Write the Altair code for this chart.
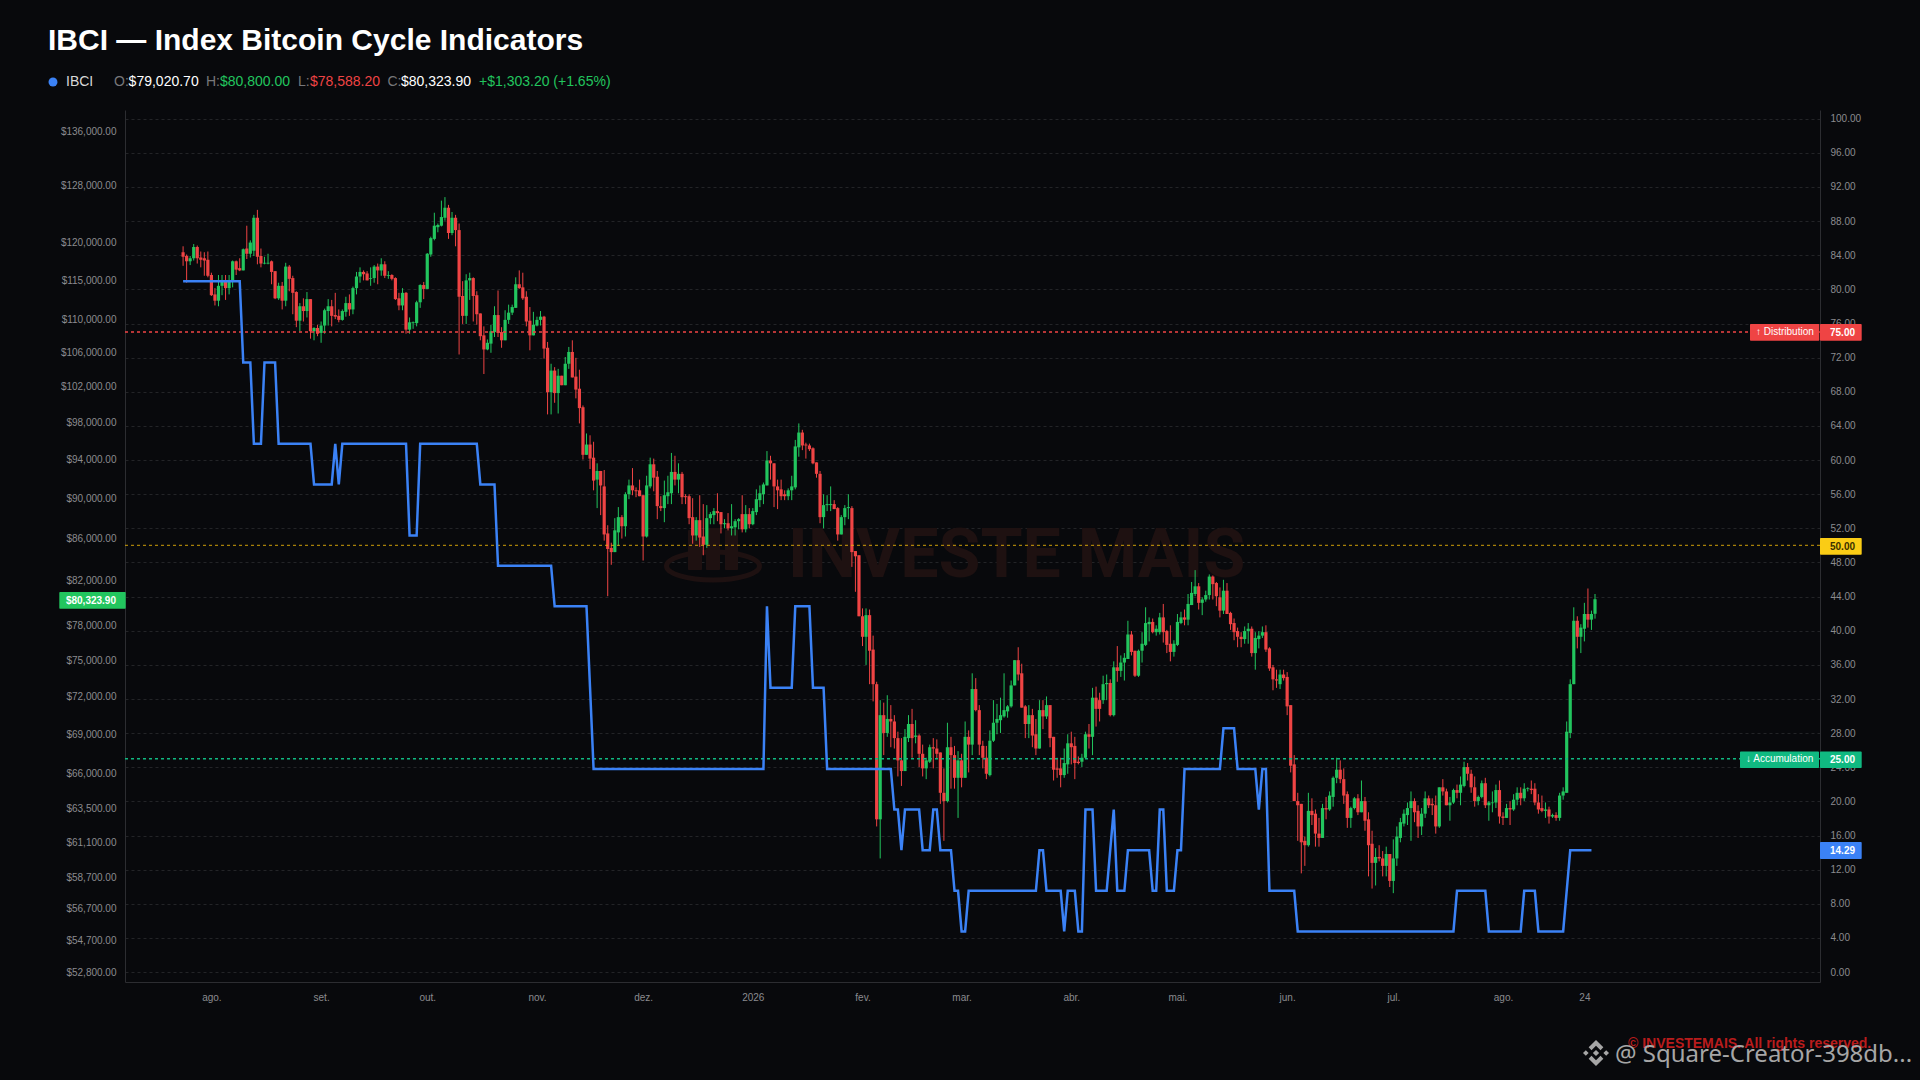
import altair as alt
import pandas as pd

# ---------- candle values, in thousands of dollars: (open, high, low, close) ----------
candles_a = [
(118.7,119.5,116.9,118.1),(118.2,118.4,114.7,117.5),(117.5,118.2,117.0,117.9),(117.9,119.8,117.6,119.4),(119.4,119.6,117.2,117.9),
(118.0,118.8,116.7,117.7),(117.9,118.7,115.6,117.6),(117.7,118.8,115.4,115.6),(115.7,116.0,113.0,113.1),(113.2,114.0,111.8,112.4),
(112.4,115.7,111.7,114.3),(114.3,115.7,113.1,114.8),(114.8,115.7,112.5,114.0),(114.0,115.7,113.2,114.9),(114.9,117.6,114.1,117.5),
(117.5,117.6,115.7,116.4),(116.6,117.9,116.2,116.3),(116.3,119.2,116.3,119.1),(119.2,122.3,117.8,118.5),(118.5,120.3,118.0,120.0),
(118.9,123.8,118.2,123.4),(123.4,124.5,117.1,118.1),(118.2,119.2,116.7,117.2),(117.2,118.1,117.1,117.3),(117.2,118.5,117.1,117.3),
(117.5,117.6,114.5,116.1),(116.2,116.2,112.6,112.7),(112.7,114.7,112.5,114.3),(114.3,114.8,111.3,112.4),(112.4,117.3,111.7,116.8),
(116.8,117.0,113.6,115.2),(115.3,115.6,110.7,113.4),(113.5,113.6,109.1,109.9),(109.9,112.1,108.6,111.7),(111.7,112.7,109.8,111.1),
(111.1,113.5,110.3,112.6),(112.6,112.6,107.7,108.6),(108.6,109.1,107.5,109.0),(109.0,109.4,108.0,108.3),(108.4,109.8,107.2,109.3),
(109.3,111.4,108.3,111.2),(111.1,112.6,109.3,111.7),(111.7,112.5,109.2,110.5),(110.6,113.4,110.1,110.4),(110.5,111.3,109.7,110.0),
(110.0,111.3,109.9,111.1),(111.0,112.9,110.4,112.1),(112.1,113.2,110.5,111.3),(111.3,114.2,110.7,114.0),(114.0,116.1,113.2,115.5),
]
candles_b = [
(115.5,116.7,114.7,116.1),(116.1,116.3,115.0,115.8),(115.9,116.2,115.0,115.0),(115.2,116.7,114.3,115.3),(115.3,117.0,114.7,116.8),
(116.8,117.2,114.5,116.3),(116.3,117.9,115.6,117.1),(117.1,117.5,115.3,115.6),(115.6,116.2,115.2,115.7),(115.7,115.8,115.0,115.2),
(115.3,115.4,112.5,112.6),(112.7,113.4,111.2,111.8),(111.8,114.0,111.2,113.4),(113.4,113.5,108.3,108.8),(108.8,110.3,108.3,109.7),
(109.6,109.8,108.9,109.7),(109.6,112.4,109.2,112.2),(112.2,114.5,111.5,114.4),(114.4,114.8,112.6,113.9),(113.9,118.6,113.9,118.5),
(118.4,120.8,118.1,120.6),(120.5,124.1,120.3,122.3),(122.1,122.6,121.4,122.4),(122.3,125.8,122.2,123.5),(123.4,126.3,123.0,124.8),
(124.8,125.2,120.5,121.3),(121.3,124.2,121.0,123.4),(123.4,123.8,119.5,121.7),(121.7,122.6,105.8,112.9),(113.0,114.9,109.5,110.5),
(110.5,115.8,109.5,115.0),(115.0,116.0,112.5,115.3),(115.3,115.4,109.8,113.0),(113.1,113.6,109.4,110.7),(110.8,110.8,107.5,108.0),
(108.1,109.2,103.5,106.4),(106.4,107.6,106.3,107.2),(107.1,109.4,106.0,108.6),(108.5,111.7,107.9,110.6),(110.6,113.7,107.9,108.4),
(108.5,109.1,106.6,107.5),(107.5,111.2,107.5,110.0),(110.0,111.9,109.5,110.9),(110.9,111.9,110.6,111.6),(111.5,115.4,111.5,114.5),
(114.5,116.3,113.9,114.0),(114.1,116.0,112.5,112.7),(112.9,113.6,109.2,109.8),(109.9,111.6,106.3,108.1),(108.1,111.0,108.1,109.4),
]
candles_c = [
(109.3,110.4,109.2,110.0),(110.0,111.1,109.3,110.4),(110.4,110.5,105.3,106.5),(106.6,107.3,98.9,101.4),(101.4,104.7,98.9,103.9),
(103.9,104.3,100.2,101.3),(101.3,104.1,99.0,103.3),(103.3,103.3,102.2,102.2),(102.2,105.5,102.2,104.7),(104.7,106.7,104.1,106.1),
(106.1,107.5,103.1,103.1),(103.2,105.4,100.7,101.7),(101.8,104.0,97.9,99.6),(99.7,99.9,94.0,94.5),(94.5,96.8,94.5,95.6),
(95.6,96.6,93.0,94.1),(94.2,95.9,90.8,91.8),(91.9,93.6,89.0,92.8),(92.8,92.8,88.3,91.3),(91.2,92.9,85.8,86.4),
(86.5,87.3,80.6,85.0),(85.1,85.6,83.5,84.7),(84.7,88.0,84.7,86.8),(86.6,89.1,85.3,88.1),(88.1,88.3,86.0,87.2),
(87.2,90.6,86.2,90.4),(90.4,91.9,89.9,91.3),(91.3,93.1,90.3,90.8),(90.8,91.1,90.1,90.7),(90.8,91.9,90.2,90.2),
(90.3,90.3,83.9,86.2),(86.2,92.3,86.1,91.3),(91.2,94.2,91.0,93.5),(93.5,94.1,90.7,92.1),(92.2,92.8,87.9,89.2),
(89.2,90.2,88.7,89.0),(89.0,91.8,87.6,90.3),(90.2,92.3,89.4,90.6),(90.5,94.7,89.4,92.7),(92.7,94.4,91.3,91.9),
(91.9,93.6,90.5,92.5),(92.5,92.7,89.4,90.1),(90.2,90.4,89.4,90.1),(90.2,90.4,87.4,88.0),(88.1,90.0,85.5,86.3),
(86.3,88.1,85.8,87.8),(87.8,90.3,85.2,86.1),(86.2,89.4,84.4,85.4),(85.4,89.3,85.1,88.0),(88.0,88.6,87.4,88.4),
]
candles_d = [
(88.3,89.0,87.4,88.7),(88.7,90.5,87.7,88.5),(88.6,88.6,86.5,87.4),(87.4,87.9,87.0,87.5),(87.5,88.5,86.8,87.0),
(87.0,89.4,86.3,87.2),(87.1,87.9,86.3,87.7),(87.7,88.0,86.9,87.9),(88.4,90.3,86.6,86.9),(86.9,89.3,86.6,88.4),
(88.4,89.0,87.0,87.4),(87.4,89.0,87.3,88.7),(88.6,90.9,88.3,89.9),(89.8,91.3,89.1,90.5),(90.4,91.6,89.4,91.4),
(91.3,94.9,91.3,93.9),(93.9,94.4,91.9,93.6),(93.6,93.6,89.1,91.2),(91.2,91.9,88.9,90.8),(90.9,91.9,89.8,90.2),
(90.4,90.8,89.8,90.2),(90.2,91.0,89.8,90.8),(90.8,92.3,89.8,91.2),(91.1,96.1,90.9,95.4),(95.3,97.9,94.3,96.9),
(96.9,97.2,95.0,95.5),(95.6,95.8,94.1,95.5),(95.5,95.7,94.9,95.1),(95.2,95.3,93.5,93.6),(93.7,93.7,92.1,92.5),
(92.5,92.8,87.5,88.1),(88.1,90.4,87.0,89.3),(89.3,90.3,88.7,89.4),(89.3,91.2,88.7,89.4),(89.4,89.8,88.9,88.9),
(89.0,89.1,85.8,86.4),(86.4,88.3,86.4,88.1),(88.1,89.3,87.3,89.0),(89.0,90.4,87.9,89.1),(89.0,89.2,83.3,84.7),
(84.8,84.8,81.0,84.3),(84.4,84.4,78.8,78.8),(78.8,79.5,76.2,77.0),(77.0,79.5,74.6,78.9),(78.9,79.4,73.0,75.8),
(75.9,77.1,71.6,73.0),(73.0,73.2,62.2,62.7),(62.7,71.7,60.0,70.5),(70.5,71.5,67.4,69.1),(69.1,72.1,68.8,70.2),
]
candles_e = [
(70.2,71.3,68.0,70.0),(70.0,70.5,67.9,68.7),(68.7,69.2,65.8,67.0),(67.0,68.7,65.1,66.2),(66.2,69.4,66.2,68.8),
(68.7,70.5,68.4,69.8),(69.8,71.0,67.2,68.7),(68.8,70.1,68.3,68.9),(68.9,69.0,66.5,67.5),(67.5,68.2,65.8,66.4),
(66.4,67.2,65.6,67.0),(66.9,68.2,66.8,68.0),(68.0,68.7,66.4,67.9),(67.9,68.6,67.1,67.5),(67.6,67.6,63.8,64.6),
(64.6,66.4,61.2,64.0),(64.0,69.9,63.9,68.0),(68.0,68.8,64.9,67.4),(67.4,68.1,64.9,65.7),(65.7,67.7,62.8,67.0),
(67.0,67.5,65.0,65.7),(65.7,70.0,65.7,68.8),(68.8,69.3,66.1,68.2),(68.2,73.9,67.4,72.6),(72.6,73.5,70.8,70.9),
(70.9,71.3,67.4,68.2),(68.1,68.5,66.4,67.2),(67.2,68.1,65.6,66.0),(65.9,69.3,65.8,68.5),(68.5,71.7,68.4,69.9),
(69.9,71.4,69.0,70.2),(70.1,71.9,69.1,70.5),(70.4,73.9,70.3,70.9),(70.8,71.3,70.3,71.2),(71.2,73.3,71.1,72.9),
(72.9,75.0,72.9,75.0),(75.0,76.1,73.3,73.8),(73.9,74.7,71.1,71.1),(71.2,71.3,68.7,69.8),(69.8,71.3,68.7,70.5),
(70.5,71.0,68.0,68.9),(69.0,70.2,67.4,67.9),(67.9,71.7,67.9,70.9),(70.9,71.7,69.4,70.4),(70.4,72.0,70.2,71.3),
(71.3,71.3,68.0,68.7),(68.8,68.8,65.5,66.3),(66.4,67.2,65.7,66.3),(66.4,67.2,65.0,65.9),(65.9,67.9,65.7,66.8),
]
candles_f = [
(66.7,69.0,66.0,68.3),(68.3,69.2,66.7,68.0),(68.1,68.8,65.6,66.8),(66.9,67.3,66.7,66.8),(66.9,67.5,66.5,67.2),
(67.2,69.2,67.1,69.0),(69.0,69.8,67.9,68.8),(68.8,72.7,67.4,71.9),(71.9,72.8,69.6,71.0),(71.7,72.3,70.0,71.0),
(71.7,73.7,71.4,73.0),(73.0,73.8,71.7,73.1),(73.1,73.4,70.4,70.5),(70.5,74.9,70.4,74.4),(74.4,76.2,73.2,74.1),
(74.1,75.4,73.6,74.8),(74.8,75.6,73.3,75.2),(75.1,78.4,75.1,77.2),(77.2,77.5,75.4,75.7),(75.8,75.8,73.6,73.7),
(73.7,75.9,73.6,75.8),(75.8,77.4,74.8,76.4),(76.3,79.6,76.2,78.2),(78.1,78.7,76.6,78.3),(78.3,78.6,77.3,77.4),
(77.4,78.0,77.1,77.7),(77.4,79.1,77.2,78.7),(78.7,79.9,76.5,77.4),(77.5,77.6,75.6,76.3),(76.4,78.0,74.9,75.7),
(75.7,76.7,75.3,76.4),(76.3,79.0,76.2,78.3),(78.2,79.2,78.1,78.7),(78.7,79.4,78.0,78.5),(78.5,80.8,78.0,79.9),
(79.8,81.9,79.8,80.9),(80.8,83.0,80.6,81.5),(81.5,81.8,79.4,80.0),(80.0,80.5,78.9,80.3),(80.3,81.1,80.1,80.7),
(80.7,82.6,80.3,82.4),(82.4,82.5,80.3,81.7),(81.8,81.9,79.7,80.6),(80.5,81.4,78.7,79.3),(79.3,82.1,79.0,81.1),
(81.1,81.8,79.0,79.0),(79.1,79.2,77.6,78.1),(78.2,78.6,76.7,77.4),(77.5,77.8,76.1,77.0),(77.0,77.4,76.1,76.8),
]
candles_g = [
(76.8,77.9,76.4,77.5),(77.5,78.2,76.4,77.7),(77.7,77.9,75.3,75.6),(75.6,77.4,74.2,76.9),(76.8,77.5,76.0,77.1),
(77.1,77.9,76.9,77.4),(77.4,78.0,75.7,75.9),(76.0,76.1,74.1,74.3),(74.4,74.6,72.5,73.4),(73.4,74.2,72.7,73.3),
(73.0,74.2,72.6,73.8),(73.8,74.2,73.3,73.5),(73.6,74.0,70.5,71.2),(71.3,71.3,66.1,66.6),(66.7,67.4,64.0,64.0),
(64.0,64.6,61.2,63.7),(63.8,63.8,59.0,61.1),(61.2,61.5,59.5,60.9),(60.9,64.6,60.8,63.3),(63.3,64.2,62.3,63.0),
(63.1,63.4,60.8,61.7),(61.7,62.8,60.8,61.4),(61.4,63.8,61.4,63.5),(63.5,64.3,62.7,63.4),(63.4,64.7,63.3,64.4),
(64.3,65.8,63.6,65.7),(65.7,67.2,65.3,66.3),(66.3,67.0,65.3,65.6),(65.6,66.4,63.8,64.4),(64.5,64.7,62.1,62.8),
(62.8,63.6,62.1,63.5),(63.5,64.3,63.4,64.2),(64.2,64.5,63.0,63.2),(63.2,65.5,63.2,64.0),(64.0,64.3,61.9,62.6),
(62.7,63.2,58.8,60.9),(61.0,61.9,58.0,59.7),(59.7,60.7,58.2,60.1),(60.1,60.9,59.8,60.0),(60.0,60.5,58.8,59.5),
(59.5,60.8,58.8,60.3),(60.3,60.3,58.1,58.5),(58.5,61.3,57.7,60.0),(60.0,62.2,59.5,61.5),(61.4,62.8,61.1,62.5),
(62.4,63.4,62.2,63.1),(63.0,63.9,62.3,63.5),(63.5,64.7,61.2,64.0),(64.0,64.2,62.5,63.2),(63.3,63.7,61.4,62.2),
]
candles_h = [
(62.2,63.5,61.6,63.1),(63.1,64.7,62.8,64.2),(64.2,64.4,63.5,63.7),(63.8,64.2,63.0,63.7),(63.7,64.4,61.7,62.2),
(62.2,65.0,62.1,65.0),(65.0,65.6,64.4,64.7),(64.7,64.9,63.7,63.7),(63.7,64.3,62.6,63.9),(63.9,64.9,63.8,64.8),
(64.8,65.2,64.2,64.6),(64.6,65.8,63.7,65.2),(65.1,66.9,65.0,66.5),(66.5,66.8,65.5,66.0),(66.0,66.3,64.6,65.0),
(65.0,65.8,63.6,64.0),(64.0,64.4,63.7,64.3),(64.3,65.5,64.2,65.3),(65.3,65.7,63.5,63.7),(63.7,64.0,62.6,63.9),
(63.85,64.7,63.2,63.9),(63.9,65.2,63.5,64.8),(64.8,65.5,62.4,62.9),(62.9,63.2,62.3,62.8),(62.8,63.8,62.8,63.5),
(63.5,64.0,62.3,63.4),(63.4,64.5,63.3,64.1),(64.1,65.0,63.7,64.6),(64.6,65.0,63.7,64.2),(64.2,65.3,64.0,64.9),
(64.9,65.0,64.7,64.95),(64.9,65.5,64.5,64.8),(64.9,65.3,63.7,63.9),(63.9,64.5,63.1,63.4),(63.5,64.4,63.2,63.3),
(63.3,63.9,62.8,63.4),(63.4,63.6,62.4,62.9),(62.9,63.1,62.8,63.0),(63.0,63.2,62.6,62.8),(62.8,64.6,62.6,64.4),
(64.4,65.0,64.1,64.7),(64.6,70.0,64.6,69.2),(69.1,73.4,68.7,73.0),(73.0,79.6,73.0,78.4),(78.4,78.8,76.0,77.0),
(77.0,78.1,75.6,77.8),(77.7,80.0,76.6,79.0),(79.0,81.3,77.8,78.5),(78.5,79.3,77.6,79.0),(79.0207,80.8,78.5882,80.3239),
]
FIRST_DAY = "2025-07-24"

# ---------- IBCI cycle line: level and last day index of each run ----------
cycle_levels = [80.95,71.43,61.90,71.43,61.90,57.14,61.90,57.14,61.90,51.15,61.90,57.14,47.62,42.86,33.33,23.81,42.86,33.33,42.86,33.33,
                23.81,19.05,14.29,19.05,14.29,19.05,14.29,9.52,4.76,9.52,14.29,9.52,4.76,9.52,4.76,19.05,9.52,14.29,19.05,9.52,
                14.29,9.52,19.05,9.52,14.29,23.81,28.57,23.81,19.05,23.81,9.52,4.76,9.52,4.76,9.52,4.76,9.52,14.29]
cycle_run_ends = [16,19,22,26,36,42,43,44,63,66,83,88,104,114,115,164,165,172,177,181,
                  200,202,203,208,211,213,217,219,221,241,243,248,249,252,254,257,261,262,263,266,
                  273,275,277,280,282,293,297,303,304,306,314,359,368,378,382,390,391,398]

price_ticks = [136000,128000,120000,115000,110000,106000,102000,98000,94000,90000,86000,82000,78000,75000,72000,
               69000,66000,63500,61100,58700,56700,54700,52800]
cycle_ticks = list(range(0, 101, 4))
month_ticks = ["2025-08-01","2025-09-01","2025-10-01","2025-11-01","2025-12-01","2026-01-01","2026-02-01","2026-03-01",
               "2026-04-01","2026-05-01","2026-06-01","2026-07-01","2026-08-01","2026-08-24"]

BG, GREEN, RED, BLUE = "#08090c", "#22c55e", "#ef4444", "#3b82f6"
TEAL, YELLOW, GREY, LINE, WM = "#10b981", "#facc15", "#8b8b8f", "#2c2d31", "#1e1111"
FONT = "Liberation Sans"

rows = candles_a + candles_b + candles_c + candles_d + candles_e + candles_f + candles_g + candles_h
dates = pd.date_range(FIRST_DAY, periods=len(rows), freq="D").strftime("%Y-%m-%d")
df = pd.DataFrame(rows, columns=["open", "high", "low", "close"]) * 1000
df["date"] = dates
df["dir"] = ["up" if c >= o else "down" for o, c in zip(df["open"], df["close"])]

levels, start = [], 0
for lev, end in zip(cycle_levels, cycle_run_ends):
    levels += [lev] * (end - start + 1)
    start = end + 1
cyc = pd.DataFrame({"date": dates[:len(levels)], "ibci": levels})

x_start = int(pd.Timestamp("2025-07-07T14:00:00Z").value // 10**6)
x_end = int(pd.Timestamp("2026-10-29T14:00:00Z").value // 10**6)
x_scale = alt.Scale(type="utc", domain=[x_start, x_end], nice=False, padding=0)
x_axis = alt.Axis(values=month_ticks, title=None, grid=False, ticks=False, domainColor=LINE, labelColor=GREY,
                  labelFont=FONT, labelFontSize=10, labelPadding=10, labelOverlap=False, labelFlush=False,
                  labelExpr="utcdate(datum.value)==24?'24':utcmonth(datum.value)==0?'2026':"
                            "['jan.','fev.','mar.','abr.','mai.','jun.','jul.','ago.','set.','out.','nov.','dez.'][utcmonth(datum.value)]")
X = alt.X("date:T", scale=x_scale, axis=x_axis)
price_scale = alt.Scale(type="log", domain=[52210, 139310], nice=False)
cycle_scale = alt.Scale(domain=[-1.16, 101.02], nice=False, zero=False)
price_axis = alt.Axis(values=price_ticks, format="$,.2f", orient="left", title=None, grid=False, ticks=False, domainColor=LINE,
                      labelColor=GREY, labelFont=FONT, labelFontSize=10, labelPadding=9, labelOverlap=False, labelFlush=False)
cycle_axis = alt.Axis(values=cycle_ticks, format=".2f", orient="right", title=None, grid=True, gridColor="#232427",
                      gridDash=[3, 3], ticks=False, domainColor=LINE, labelColor=GREY, labelFont=FONT, labelFontSize=10,
                      labelPadding=10, labelOverlap=False, labelFlush=False)
dir_color = alt.Color("dir:N", scale=alt.Scale(domain=["up", "down"], range=[GREEN, RED]), legend=None)

one = pd.DataFrame({"k": [0]})
base = alt.Chart(one)

def txt(text, x, y, color, size, weight="normal", align="left", font=FONT, opacity=1):
    return base.mark_text(text=text, color=color, fontSize=size, fontWeight=weight, align=align, baseline="middle",
                          font=font, opacity=opacity).encode(x=alt.value(x), y=alt.value(y))

def box(x1, x2, y1, y2, color):
    return base.mark_rect(color=color, cornerRadius=1).encode(x=alt.value(x1), x2=alt.value(x2),
                                                               y=alt.value(y1), y2=alt.value(y2))

# watermark behind everything
ring = base.mark_point(shape="M -1 0 A 1 0.3 0 1 0 1 0 A 1 0.3 0 1 0 -1 0 Z", filled=False, color=WM, strokeWidth=5,
                       size=8649, opacity=1).encode(x=alt.value(588), y=alt.value(456))
watermark = [ring, box(563, 577, 420, 460, WM), box(581, 595, 418, 460, WM), box(600, 613, 420, 460, WM),
             txt("INVESTE MAIS", 663, 447, WM, 68, "bold", font="Roboto")]

wicks = alt.Chart(df).mark_rule(strokeWidth=1).encode(
    x=X, y=alt.Y("low:Q", scale=price_scale, axis=price_axis), y2="high:Q", color=dir_color)
bodies = alt.Chart(df).mark_bar(size=3.2).encode(
    x=X, y=alt.Y("open:Q", scale=price_scale, axis=price_axis), y2="close:Q", color=dir_color)

def thresh(v, color, opacity=1, width=1.4):
    return alt.Chart(pd.DataFrame({"v": [v]})).mark_rule(color=color, strokeDash=[3, 3], strokeWidth=width, opacity=opacity).encode(
        y=alt.Y("v:Q", scale=cycle_scale, axis=cycle_axis))

line = alt.Chart(cyc).mark_line(color=BLUE, strokeWidth=2.5, interpolate="linear").encode(
    x=X, y=alt.Y("ibci:Q", scale=cycle_scale, axis=cycle_axis))

annotations = [
    txt("IBCI — Index Bitcoin Cycle Indicators", -77, -69, "#ffffff", 30, "bold"),
    base.mark_point(shape="circle", filled=True, color=BLUE, size=80, opacity=1).encode(x=alt.value(-72), y=alt.value(-28)),
    txt("IBCI", -59, -28, "#d8d8d8", 14),
    txt("O:", -11, -28, "#77777a", 14), txt("$79,020.70", 3.6, -28, "#ffffff", 14),
    txt("H:", 81, -28, "#77777a", 14), txt("$80,800.00", 95, -28, GREEN, 14),
    txt("L:", 173, -28, "#77777a", 14), txt("$78,588.20", 185, -28, RED, 14),
    txt("C:", 262.5, -28, "#77777a", 14), txt("$80,323.90", 276, -28, "#ffffff", 14),
    txt("+$1,303.20 (+1.65%)", 354, -28, GREEN, 14),
    box(-65.7, 0.7, 482, 498.7, GREEN), txt("$80,323.90", -9, 490.5, "#ffffff", 10, "bold", align="right"),
    box(1625, 1694.3, 214, 230.7, RED), txt("↑ Distribution", 1631, 221.5, "#ffffff", 10),
    box(1695, 1736.7, 214, 230.7, RED), txt("75.00", 1705, 222.5, "#ffffff", 10, "bold"),
    box(1615, 1694, 641.6, 658, TEAL), txt("↓ Accumulation", 1621, 649, "#ffffff", 10),
    box(1695, 1736.7, 641.6, 658, TEAL), txt("25.00", 1705, 650, "#ffffff", 10, "bold"),
    box(1695, 1736.7, 428, 444.8, YELLOW), txt("50.00", 1705, 436.5, "#3a3000", 10, "bold"),
    box(1695, 1736.7, 732, 749, BLUE), txt("14.29", 1705, 740.5, "#ffffff", 10, "bold"),
    txt("© INVESTEMAIS. All rights reserved.", 1503, 933.5, "#b91c1c", 14, "bold"),
    base.mark_point(shape="M0 -.22 L.22 0 L0 .22 L-.22 0 Z M-.72 -.2 L-.52 0 L-.72 .2 L-.92 0 Z M.72 -.2 L.92 0 L.72 .2 L.52 0 Z "
                          "M0 -.92 L.52 -.4 L.32 -.2 L0 -.52 L-.32 -.2 L-.52 -.4 Z M0 .92 L-.52 .4 L-.32 .2 L0 .52 L.32 .2 L.52 .4 Z",
                    filled=True, color="#a6a6a6", size=800, opacity=1).encode(x=alt.value(1471), y=alt.value(943)),
    txt("@ Square-Creator-398db...", 1490, 945, "#a6a6a6", 24, font="Noto Sans"),
]

cycle_layer = alt.layer(thresh(75, RED), thresh(50, "#eab308", 0.7, 1.2), thresh(25, TEAL), line, *annotations)

chart = alt.layer(alt.layer(*watermark, wicks, bodies), cycle_layer).resolve_scale(y="independent").properties(
    width=1695, height=872, background=BG,
    autosize=alt.AutoSizeParams(type="none"),
    padding={"left": 117, "top": 102, "right": 92, "bottom": 88},
).configure_view(stroke=None)

chart.save("out.html", embed_options={"renderer": "svg", "actions": False,
                                      "defaultStyle": "html,body{background:#08090c;overflow:hidden}"})
